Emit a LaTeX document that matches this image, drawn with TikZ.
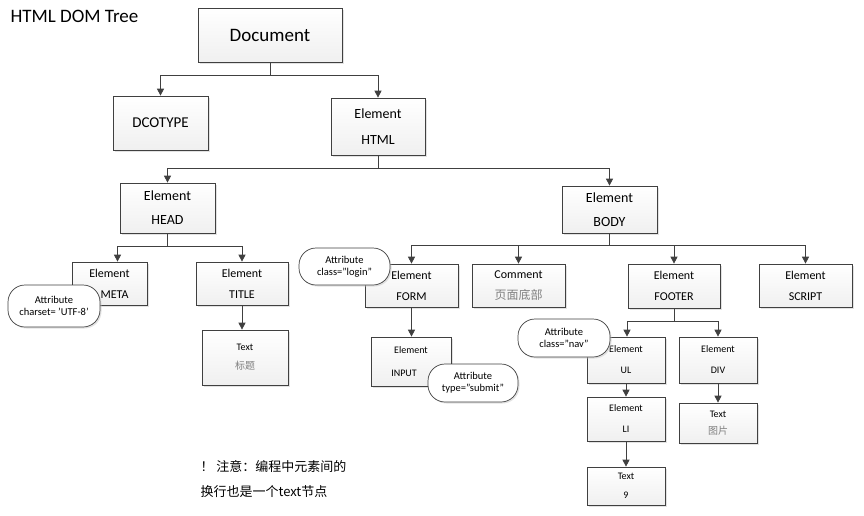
\documentclass[tikz,border=0pt]{standalone}
\usepackage{fontspec}
\setmainfont{Carlito}
\newfontfamily\cjk{Noto Sans CJK SC}
\usetikzlibrary{arrows.meta,shadows}
\definecolor{line}{HTML}{404040}
\begin{document}
\begin{tikzpicture}[x=1pt,y=-1pt,
  box/.style={draw=line,line width=0.7pt,top color=white,bottom color=gray!12,
    drop shadow={shadow xshift=2pt,shadow yshift=-2pt,fill=gray!45},
    align=center,inner sep=0pt,font=\fontsize{12}{12}\selectfont},
  attr/.style={draw=line,line width=0.7pt,fill=white,rounded corners=17pt,
    drop shadow={shadow xshift=1.5pt,shadow yshift=-1.5pt,fill=gray!45},
    align=center,inner sep=0pt,font=\fontsize{10.5}{12}\selectfont},
  arr/.style={draw=line,line width=0.8pt,-{Triangle[length=7pt,width=7pt]}}]
\newcommand\bx[7][]{\node[box,#1,minimum width={(#5-#3)*1pt},minimum height={(#6-#4)*1pt}]
  (#2) at ({(#3+#5)/2},{(#4+#6)/2}) {#7};}
\newcommand\at[7][]{\node[attr,#1,minimum width={(#5-#3)*1pt},minimum height={(#6-#4)*1pt}]
  (#2) at ({(#3+#5)/2},{(#4+#6)/2}) {#7};}
\useasboundingbox (0,0) rectangle (864,515);

\node[anchor=west,font=\fontsize{19}{19}\selectfont] (title) at (7,16) {HTML DOM Tree};

\bx[font=\fontsize{19}{19}\selectfont]{doc}{198}{8}{342}{62}{\raisebox{-8pt}{Document}}
\bx[font=\fontsize{15}{15}\selectfont]{dct}{113}{96}{208}{150}{DCOTYPE}
\bx[font=\fontsize{14}{14}\selectfont]{html}{331}{98}{425}{155}{Element\\[12pt]HTML}
\bx[font=\fontsize{14}{14}\selectfont]{head}{120}{183}{215}{233}{Element\\[10pt]HEAD}
\bx[font=\fontsize{14}{14}\selectfont]{body}{562}{186}{657}{233}{Element\\[10pt]BODY}
\bx{meta}{72}{262}{147}{305}{Element\\[9pt]\hspace*{10pt}META}
\bx{ttl}{196}{262}{288}{305}{Element\\[9pt]TITLE}
\bx[font=\fontsize{10}{10}\selectfont]{ttxt}{202}{330}{288}{385}{Text\\[9pt]{\cjk\color{gray}标题}}
\bx{form}{365}{264}{458}{307}{Element\\[9pt]FORM}
\bx{cmt}{472}{264}{565}{307}{Comment\\[9pt]{\cjk\color{gray}页面底部}}
\bx{foot}{628}{264}{720}{308}{Element\\[9pt]FOOTER}
\bx{scr}{759}{264}{852}{307}{Element\\[9pt]SCRIPT}
\bx[font=\fontsize{10}{10}\selectfont]{inp}{371}{337}{451}{386}{Element\\[13pt]INPUT\hspace*{14pt}}
\bx[font=\fontsize{10}{10}\selectfont]{ul}{587}{337}{665}{383}{Element\\[11pt]UL}
\bx[font=\fontsize{10}{10}\selectfont]{dv}{679}{337}{757}{383}{Element\\[11pt]DIV}
\bx[font=\fontsize{10}{10}\selectfont]{li}{587}{397}{665}{441}{Element\\[11pt]LI}
\bx[font=\fontsize{10}{10}\selectfont]{dtxt}{679}{403}{757}{443}{Text\\[7pt]{\cjk\color{gray}图片}}
\bx[font=\fontsize{10}{10}\selectfont]{ntxt}{587}{467}{665}{505}{Text\\[9pt]9}

\at{acs}{8}{285}{100}{327}{Attribute\\charset= 'UTF-8'}
\at{alg}{299}{248}{390}{285}{Attribute\\class="login"}
\at{anv}{518}{319}{610}{357}{Attribute\\class="nav''}
\at{asb}{428}{364}{518}{402}{Attribute\\type="submit"}

\coordinate (j1) at (270,75);
\draw[arr] (doc.south) -- (j1) -| (dct.north);
\draw[arr] (j1) -| (html.north);
\coordinate (j2) at (378,168);
\draw[arr] (html.south) -- (j2) -| (head.north);
\draw[arr] (j2) -| (body.north);
\coordinate (j3) at (167.5,246);
\draw[arr] (head.south) -- (j3) -| ([xshift=8pt]meta.north);
\draw[arr] (j3) -| (ttl.north);
\coordinate (j4) at (609.5,245);
\draw[arr] (body.south) -- (j4) -| (form.north);
\draw[arr] (j4) -| (cmt.north);
\draw[arr] (j4) -| (foot.north);
\draw[arr] (j4) -| (scr.north);
\coordinate (j5) at (674,321);
\draw[arr] (foot.south) -- (j5) -| ([xshift=1pt]ul.north);
\draw[arr] (j5) -| (dv.north);
\draw[arr] (ttl.south) -- (ttxt.north -| ttl.south);
\draw[arr] (form.south) -- (inp.north -| form.south);
\draw[arr] (ul.south) -- (li.north);
\draw[arr] (li.south) -- (ntxt.north);
\draw[arr] (dv.south) -- (dtxt.north);

\node[anchor=west,font=\cjk\fontsize{13}{13}\selectfont] (n1) at (197,466) {！ 注意：编程中元素间的};
\node[anchor=west,font=\cjk\fontsize{13}{13}\selectfont] (n2) at (197,492) {换行也是一个text节点};
\end{tikzpicture}
\end{document}
